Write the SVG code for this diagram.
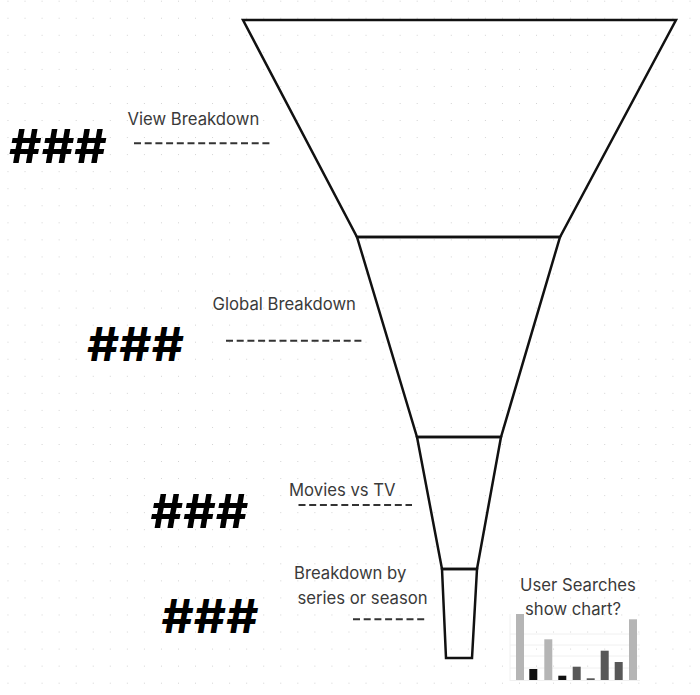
<svg xmlns="http://www.w3.org/2000/svg" width="700" height="695" viewBox="0 0 700 695">
  <defs>
    <pattern id="dots" x="7.5" y="0.7" width="17.05" height="17.05" patternUnits="userSpaceOnUse">
      <rect x="-0.8" y="-0.8" width="1.6" height="1.6" fill="#bdbdbd"/>
    </pattern>
    <style>
      .funnel { fill: none; stroke: #111; stroke-width: 2.5; stroke-linejoin: miter; }
      .hash { font-family: Inter, "Liberation Sans", sans-serif; font-weight: 700; font-size: 46px; fill: #000; }
      .label { font-family: Inter, "Liberation Sans", sans-serif; font-size: 16.7px; fill: #3a3a3a; }
      .dash { stroke: #333; stroke-width: 2; stroke-dasharray: 7 3.7; fill: none; }
      .grid { stroke: #f0f0f0; stroke-width: 1; }
      .light { fill: #b5b5b5; }
      .black { fill: #111; }
      .dark { fill: #585858; }
    </style>
  </defs>
  <rect width="700" height="695" fill="#fff"/>
  <rect width="700" height="695" fill="url(#dots)"/>

  <g id="funnel">
    <polygon id="stage1" class="funnel" points="243,20 676,20 560,237 357,237"/>
    <polygon id="stage2" class="funnel" points="357,237 560,237 501,437 417,437"/>
    <polygon id="stage3" class="funnel" points="417,437 501,437 477,569 442,569"/>
    <polygon id="stage4" class="funnel" points="442,569 477,569 472,658 446,658"/>
  </g>

  <g id="hash1"><text class="hash" x="9" y="163" textLength="98" lengthAdjust="spacingAndGlyphs">###</text></g>
  <g id="hash2"><text class="hash" x="87" y="361" textLength="97" lengthAdjust="spacingAndGlyphs">###</text></g>
  <g id="hash3"><text class="hash" x="150.5" y="528" textLength="98" lengthAdjust="spacingAndGlyphs">###</text></g>
  <g id="hash4"><text class="hash" x="161.5" y="633" textLength="97" lengthAdjust="spacingAndGlyphs">###</text></g>

  <g id="label1"><text class="label" x="127.5" y="125">View Breakdown</text></g>
  <g id="label2"><text class="label" x="212.5" y="310">Global Breakdown</text></g>
  <g id="label3"><text class="label" x="289" y="496">Movies vs TV</text></g>
  <g id="label4">
    <text class="label" x="294" y="579">Breakdown by</text>
    <text class="label" x="297.5" y="604">series or season</text>
  </g>

  <g id="connectors">
    <line class="dash" x1="134" y1="143.3" x2="273" y2="143.3"/>
    <line class="dash" x1="226" y1="340.7" x2="364" y2="340.7"/>
    <line class="dash" x1="298.5" y1="505" x2="412" y2="505"/>
    <line class="dash" x1="353" y1="619.3" x2="425" y2="619.3"/>
  </g>

  <g id="chart">
    <line class="grid" x1="510" y1="614" x2="510" y2="681"/>
    <line class="grid" x1="510" y1="634" x2="640" y2="634"/>
    <line class="grid" x1="510" y1="645" x2="640" y2="645"/>
    <line class="grid" x1="510" y1="656" x2="640" y2="656"/>
    <line class="grid" x1="510" y1="668" x2="640" y2="668"/>
    <line class="grid" x1="510" y1="680.5" x2="640" y2="680.5"/>
    <rect class="light" x="516" y="614" width="8" height="66"/>
    <rect class="black" x="529.3" y="669" width="8" height="11"/>
    <rect class="light" x="544.3" y="639.3" width="8" height="40.7"/>
    <rect class="black" x="558.3" y="675.7" width="8" height="4.3"/>
    <rect class="dark" x="572.7" y="666.7" width="8" height="13.3"/>
    <rect class="dark" x="586.7" y="678.3" width="8" height="1.7"/>
    <rect class="dark" x="600.7" y="650.7" width="8" height="29.3"/>
    <rect class="dark" x="614.7" y="662" width="8" height="18"/>
    <rect class="light" x="629" y="619.3" width="8" height="60.7"/>
    <text class="label" x="520" y="590.7">User Searches</text>
    <text class="label" x="525" y="615">show chart?</text>
  </g>
</svg>
